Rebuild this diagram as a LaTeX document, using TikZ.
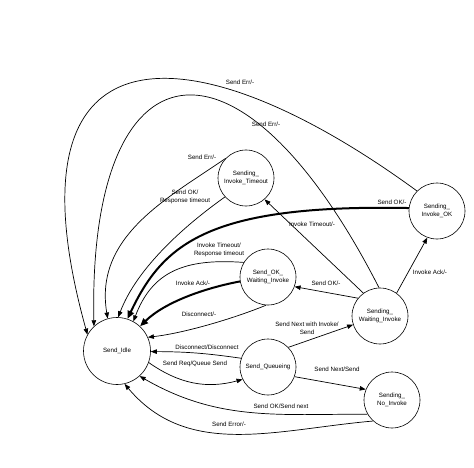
\documentclass[tikz,border=0pt]{standalone}
\usepackage{fontspec}
\setmainfont{Liberation Sans}
\usetikzlibrary{arrows.meta}
\tikzset{
  state/.style={draw, circle, line width=0.6pt, minimum size=56pt, inner sep=0pt,
                align=center, font=\fontsize{6.2}{7.6}\selectfont},
  lbl/.style={font=\fontsize{6.2}{7.6}\selectfont, align=center, inner sep=0pt},
  tr/.style={line width=0.7pt, -{Triangle[length=6pt,width=4.5pt]}},
  thicktr/.style={line width=2pt, -{Triangle[length=8pt,width=6.5pt]}},
}
\begin{document}
\begin{tikzpicture}[x=1pt,y=1pt]
    \useasboundingbox (0,0) rectangle (474,-468);

    % states
    \node[state, minimum size=67pt] (idle) at (117,-351) {Send\_Idle};
    \node[state] (ito)    at (246,-178) {Sending\_\\Invoke\_Timeout};
    \node[state] (iok)    at (437,-211) {Sending\_\\Invoke\_OK};
    \node[state] (okwait) at (268,-277) {Send\_OK\_\\Waiting\_Invoke};
    \node[state] (wait)   at (380,-316) {Sending\_\\Waiting\_Invoke};
    \node[state] (queue)  at (268,-367) {Send\_Queueing};
    \node[state] (noinv)  at (392,-400) {Sending\_\\No\_Invoke};

    % back to idle, the long ones
    \draw[tr] (iok.135) .. controls (190,-25) and (0,-20) .. (idle.151);
    \draw[tr] (wait.92) .. controls (238,-12) and (88,-40) .. (idle.133);
    \draw[tr] (ito.136) .. controls (168,-198) and (94,-236) .. (idle.106);
    \draw[tr] (ito.222) .. controls (184,-226) and (137,-268) .. (idle.88);
    \draw[thicktr] (iok.174) .. controls (208,-204) and (163,-244) .. (idle.72);
    \draw[tr] (okwait.149) .. controls (184,-258) and (152,-272) .. (idle.61);
    \draw[thicktr] (okwait.189) .. controls (205,-288) and (165,-302) .. (idle.47);
    \draw[tr] (okwait.266) .. controls (235,-318) and (185,-333) .. (idle.24);

    % between the other states
    \draw[tr] (wait.126) -- (ito.311);
    \draw[tr] (wait.54) -- (iok.250);
    \draw[tr] (wait.141) -- (okwait.340);
    \draw[tr] (queue.162) to[bend right=4] (idle.359);
    \draw[tr] (idle.-20) to[out=-35,in=195] (queue.206);
    \draw[tr] (queue.44) -- (wait.198);
    \draw[tr] (queue.340) -- (noinv.158);
    \draw[tr] (noinv.210) to[out=180,in=-30] (idle.-48);
    \draw[tr] (noinv.228) to[out=185,in=-50] (idle.-77);

    % transition labels
    \node[lbl] (l1)  at (240,-82)  {Send Err/-};
    \node[lbl] (l2)  at (266,-124) {Send Err/-};
    \node[lbl] (l3)  at (202,-157) {Send Err/-};
    \node[lbl] (l4)  at (185,-197) {Send OK/\\Response timeout};
    \node[lbl] (l5)  at (392,-202) {Send OK/-};
    \node[lbl] (l6)  at (312,-224) {Invoke Timeout/-};
    \node[lbl] (l7)  at (430,-272) {Invoke Ack/-};
    \node[lbl] (l8)  at (219,-250) {Invoke Timeout/\\Response timeout};
    \node[lbl] (l9)  at (193,-283) {Invoke Ack/-};
    \node[lbl] (l10) at (199,-314) {Disconnect/-};
    \node[lbl] (l11) at (326,-283) {Send OK/-};
    \node[lbl] (l12) at (307,-328) {Send Next with Invoke/\\Send};
    \node[lbl] (l13) at (337,-369) {Send Next/Send};
    \node[lbl] (l14) at (207,-347) {Disconnect/Disconnect};
    \node[lbl] (l15) at (195,-364) {Send Req/Queue Send};
    \node[lbl] (l16) at (281,-406) {Send OK/Send next};
    \node[lbl] (l17) at (229,-424) {Send Error/-};
\end{tikzpicture}
\end{document}
